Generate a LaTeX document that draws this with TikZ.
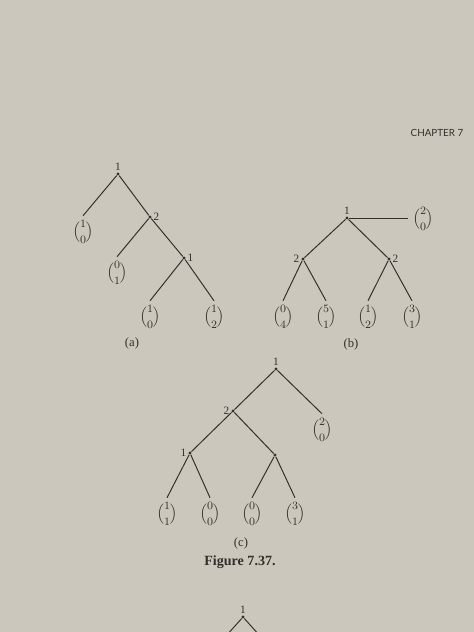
\documentclass[tikz,border=0pt]{standalone}
\usepackage{amsmath}
\usepackage{fontspec}
\setmainfont{Liberation Serif}
\newfontfamily\chapfont{Lato}
\definecolor{paper}{RGB}{204,199,189}
\definecolor{ink}{RGB}{52,47,42}
\tikzset{
  move/.style={draw=ink,line width=0.7pt},
  dot/.style={circle,fill=ink,inner sep=0pt,minimum size=2.4pt},
  payoff/.style={inner sep=3pt,text=ink,font=\footnotesize},
  lbl/.style={text=ink,font=\footnotesize,inner sep=1pt},
  sublbl/.style={text=ink,font=\small}
}
\newcommand{\pay}[2]{$\displaystyle\binom{#1}{#2}$}
\begin{document}
\begin{tikzpicture}[x=0.025cm,y=-0.025cm]
% page
\fill[paper] (0,0) rectangle (474,632);
\clip (0,0) rectangle (474,632);
\node[text=ink,font=\chapfont\scriptsize] (chap) at (437,133) {CHAPTER 7};
% tree (a)
\node[dot,label={[lbl]above:1}] (a1) at (118,174) {};
\node[dot,label={[lbl]right:2}] (a2) at (150,217) {};
\node[dot,label={[lbl]right:1}] (a3) at (184,258) {};
\node[payoff] (al1) at (83,232) {\pay{1}{0}};
\node[payoff] (al2) at (117,273) {\pay{0}{1}};
\node[payoff] (al3) at (150,317) {\pay{1}{0}};
\node[payoff] (al4) at (214,317) {\pay{1}{2}};
\draw[move] (a1) -- (al1.north);
\draw[move] (a1) -- (a2);
\draw[move] (a2) -- (al2.north);
\draw[move] (a2) -- (a3);
\draw[move] (a3) -- (al3.north);
\draw[move] (a3) -- (al4.north);
\node[sublbl] (acap) at (132,343) {(a)};
% tree (b)
\node[dot,label={[lbl]above:1}] (b1) at (347,218) {};
\node[dot,label={[lbl]left:2}] (b2) at (303,259) {};
\node[dot,label={[lbl]right:2}] (b3) at (389,259) {};
\node[payoff] (bl1) at (283,317) {\pay{0}{4}};
\node[payoff] (bl2) at (326,317) {\pay{5}{1}};
\node[payoff] (bl3) at (368,317) {\pay{1}{2}};
\node[payoff] (bl4) at (412,317) {\pay{3}{1}};
\node[payoff] (bl5) at (423,219) {\pay{2}{0}};
\draw[move] (b1) -- (b1 -| bl5.west);
\draw[move] (b1) -- (b2);
\draw[move] (b1) -- (b3);
\draw[move] (b2) -- (bl1.north);
\draw[move] (b2) -- (bl2.north);
\draw[move] (b3) -- (bl3.north);
\draw[move] (b3) -- (bl4.north);
\node[sublbl] (bcap) at (351,344) {(b)};
% tree (c)
\node[dot,label={[lbl]above:1}] (c1) at (276,369) {};
\node[dot,label={[lbl]left:2}] (c2) at (233,411) {};
\node[dot,label={[lbl]left:1}] (c3) at (190,453) {};
\node[dot] (c4) at (275,455) {};
\node[payoff] (cl1) at (167,514) {\pay{1}{1}};
\node[payoff] (cl2) at (210,514) {\pay{0}{0}};
\node[payoff] (cl3) at (252,514) {\pay{0}{0}};
\node[payoff] (cl4) at (295,514) {\pay{3}{1}};
\node[payoff] (cl5) at (322,430) {\pay{2}{0}};
\draw[move] (c1) -- (c2);
\draw[move] (c1) -- (cl5.north);
\draw[move] (c2) -- (c3);
\draw[move] (c2) -- (c4);
\draw[move] (c3) -- (cl1.north);
\draw[move] (c3) -- (cl2.north);
\draw[move] (c4) -- (cl3.north);
\draw[move] (c4) -- (cl4.north);
\node[sublbl] (ccap) at (241,543) {(c)};
\node[text=ink,font=\bfseries] (fig) at (240,562) {Figure 7.37.};
% next tree, cut off by the page edge
\node[dot,label={[lbl]above:1}] (d1) at (243,617) {};
\coordinate (dl) at (226,636);
\coordinate (dr) at (260,636);
\draw[move] (d1) -- (dl);
\draw[move] (d1) -- (dr);
\end{tikzpicture}
\end{document}
